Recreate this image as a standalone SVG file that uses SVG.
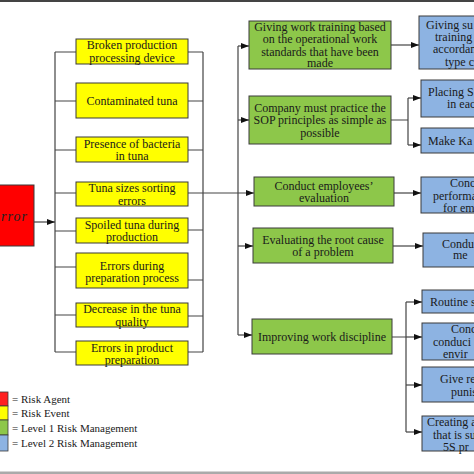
<svg xmlns="http://www.w3.org/2000/svg" width="474" height="474" viewBox="0 0 474 474">
<style>
.t{font-family:"Liberation Serif","Times New Roman",serif;font-size:12px;fill:#1a1a1a;text-anchor:middle}
.b{font-family:"Liberation Serif","Times New Roman",serif;font-size:12px;fill:#1a1a1a}
.lg{font-family:"Liberation Serif","Times New Roman",serif;font-size:11px;fill:#1a1a1a}
.y{fill:#ffff00;stroke:#3a3a3a;stroke-width:1}
.g{fill:#8dc74a;stroke:#3a3a3a;stroke-width:1}
.bl{fill:#8db3e2;stroke:#3a3a3a;stroke-width:1}
.c{fill:none;stroke:#444;stroke-width:1.2}
</style>
<defs>
<marker id="ah" markerUnits="userSpaceOnUse" markerWidth="9" markerHeight="7" refX="8" refY="3" orient="auto">
<path d="M0,0 L8,3 L0,6 z" fill="#111"/>
</marker>
</defs>
<rect x="0" y="0" width="474" height="474" fill="#ffffff"/>
<rect x="0" y="0" width="474" height="2" fill="#444"/>
<rect x="0" y="471.5" width="474" height="2.5" fill="#aaa"/>

<g id="connectors">
<path class="c" d="M55,52 V352 M55,52 H76 M55,101 H76 M55,150 H76 M55,193 H76 M55,231 H76 M55,267 H76 M55,315 H76 M55,352 H76"/>
<path class="c" d="M203,52 V352 M188,52 H203 M188,101 H203 M188,150 H203 M188,230 H203 M188,280 H203 M188,316 H203 M188,352 H203"/>
<line class="c" x1="34" y1="222" x2="55" y2="222" marker-end="url(#ah)"/>
<line class="c" x1="188" y1="193" x2="254" y2="193" marker-end="url(#ah)"/>
<path class="c" d="M238,46 V335"/>
<line class="c" x1="238" y1="46" x2="249" y2="46" marker-end="url(#ah)"/>
<line class="c" x1="238" y1="120" x2="249" y2="120" marker-end="url(#ah)"/>
<line class="c" x1="238" y1="246" x2="253" y2="246" marker-end="url(#ah)"/>
<line class="c" x1="238" y1="335" x2="252" y2="335" marker-end="url(#ah)"/>
<line class="c" x1="391" y1="45" x2="419" y2="45" marker-end="url(#ah)"/>
<path class="c" d="M391,120 H408 M408,98 V145"/>
<line class="c" x1="408" y1="98" x2="421" y2="98" marker-end="url(#ah)"/>
<line class="c" x1="408" y1="145" x2="421" y2="145" marker-end="url(#ah)"/>
<line class="c" x1="394" y1="193" x2="421" y2="193" marker-end="url(#ah)"/>
<line class="c" x1="393" y1="246" x2="423" y2="246" marker-end="url(#ah)"/>
<path class="c" d="M392,337 H406 M406,302 V432"/>
<line class="c" x1="406" y1="302" x2="422" y2="302" marker-end="url(#ah)"/>
<line class="c" x1="406" y1="337" x2="422" y2="337" marker-end="url(#ah)"/>
<line class="c" x1="406" y1="385" x2="422" y2="385" marker-end="url(#ah)"/>
<line class="c" x1="406" y1="432" x2="422" y2="432" marker-end="url(#ah)"/>
</g>

<g id="risk-agent">
<rect x="-2" y="185" width="36" height="61" fill="#ff0000" stroke="#3a3a3a" stroke-width="1"/>
<text x="1" y="221" font-family="Liberation Serif, Times New Roman, serif" font-size="14" font-style="italic" fill="#222" textLength="26">rror</text>
</g>

<g id="y1"><rect class="y" x="76" y="39" width="112" height="25"/><text class="t" x="132" y="49">Broken production</text><text class="t" x="132" y="62">processing device</text></g>
<g id="y2"><rect class="y" x="76" y="83" width="112" height="35"/><text class="t" x="132" y="105">Contaminated tuna</text></g>
<g id="y3"><rect class="y" x="76" y="137" width="112" height="25"/><text class="t" x="132" y="147.5">Presence of bacteria</text><text class="t" x="132" y="160">in tuna</text></g>
<g id="y4"><rect class="y" x="76" y="182" width="112" height="24"/><text class="t" x="132" y="192">Tuna sizes sorting</text><text class="t" x="132" y="205">errors</text></g>
<g id="y5"><rect class="y" x="76" y="218" width="112" height="25"/><text class="t" x="132" y="229">Spoiled tuna during</text><text class="t" x="132" y="241">production</text></g>
<g id="y6"><rect class="y" x="76" y="253" width="112" height="35"/><text class="t" x="132" y="270">Errors during</text><text class="t" x="132" y="282">preparation process</text></g>
<g id="y7"><rect class="y" x="76" y="303" width="112" height="24"/><text class="t" x="132" y="313">Decrease in the tuna</text><text class="t" x="132" y="326">quality</text></g>
<g id="y8"><rect class="y" x="76" y="341" width="112" height="24"/><text class="t" x="132" y="352">Errors in product</text><text class="t" x="132" y="364">preparation</text></g>

<g id="g1"><rect class="g" x="249" y="21" width="142" height="48"/><text class="t" x="320" y="31">Giving work training based</text><text class="t" x="320" y="43">on the operational work</text><text class="t" x="320" y="55.5">standards that have been</text><text class="t" x="320" y="67">made</text></g>
<g id="g2"><rect class="g" x="249" y="96" width="142" height="48"/><text class="t" x="320" y="112">Company must practice the</text><text class="t" x="320" y="124">SOP principles as simple as</text><text class="t" x="320" y="137">possible</text></g>
<g id="g3"><rect class="g" x="254" y="177" width="140" height="29"/><text class="t" x="324" y="190">Conduct employees’</text><text class="t" x="324" y="201.5">evaluation</text></g>
<g id="g4"><rect class="g" x="253" y="228" width="140" height="35"/><text class="t" x="323" y="244">Evaluating the root cause</text><text class="t" x="323" y="256">of a problem</text></g>
<g id="g5"><rect class="g" x="252" y="319" width="140" height="35"/><text class="t" x="322" y="341">Improving work discipline</text></g>

<g id="b1"><rect class="bl" x="419" y="16" width="70" height="53"/><text class="b" x="426" y="29">Giving su</text><text class="b" x="435" y="41">training</text><text class="b" x="433" y="53">accordan</text><text class="b" x="445" y="66">type c</text></g>
<g id="b2"><rect class="bl" x="421" y="80" width="70" height="37"/><text class="b" x="428" y="96">Placing S</text><text class="b" x="447" y="108">in eac</text></g>
<g id="b3"><rect class="bl" x="421" y="128" width="70" height="25"/><text class="b" x="428" y="145">Make Ka</text></g>
<g id="b4"><rect class="bl" x="421" y="177" width="70" height="36"/><text class="b" x="450" y="187">Conc</text><text class="b" x="433" y="200">performa</text><text class="b" x="443" y="212">for em</text></g>
<g id="b5"><rect class="bl" x="423" y="233" width="70" height="34"/><text class="b" x="442" y="248">Condu</text><text class="b" x="453" y="259">me</text></g>
<g id="b6"><rect class="bl" x="422" y="290" width="70" height="23"/><text class="b" x="430" y="306">Routine s</text></g>
<g id="b7"><rect class="bl" x="422" y="323" width="70" height="37"/><text class="b" x="451" y="333">Conc</text><text class="b" x="433" y="346">conduci</text><text class="b" x="443" y="358">envir</text></g>
<g id="b8"><rect class="bl" x="422" y="367" width="70" height="35"/><text class="b" x="440" y="383">Give re</text><text class="b" x="451" y="396">punis</text></g>
<g id="b9"><rect class="bl" x="422" y="416" width="70" height="35"/><text class="b" x="427" y="426">Creating a</text><text class="b" x="433" y="439">that is su</text><text class="b" x="443" y="451">5S pr</text></g>

<g id="legend">
<rect x="-2" y="392" width="10" height="14" fill="#ff2020" stroke="#3a3a3a" stroke-width="0.8"/>
<rect x="-2" y="406" width="10" height="14" fill="#ffff00" stroke="#3a3a3a" stroke-width="0.8"/>
<rect x="-2" y="420" width="10" height="15" fill="#8dc74a" stroke="#3a3a3a" stroke-width="0.8"/>
<rect x="-2" y="435" width="10" height="16" fill="#8db3e2" stroke="#3a3a3a" stroke-width="0.8"/>
<text class="lg" x="12" y="403">= Risk Agent</text>
<text class="lg" x="12" y="417">= Risk Event</text>
<text class="lg" x="12" y="432">= Level 1 Risk Management</text>
<text class="lg" x="12" y="447">= Level 2 Risk Management</text>
</g>
</svg>
